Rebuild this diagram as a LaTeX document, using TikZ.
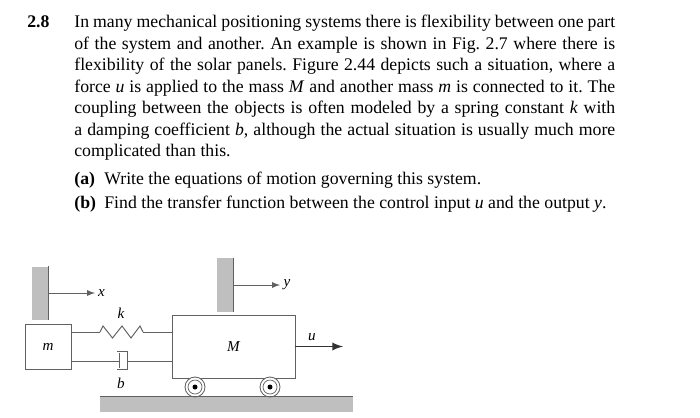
\documentclass[tikz,border=0pt]{standalone}
\usepackage{fontspec}
\setmainfont{Liberation Serif}
\definecolor{wallgray}{gray}{0.75}
\definecolor{linegray}{gray}{0.38}
\frenchspacing
\newcommand{\fullline}[1]{\makebox[10.82cm][s]{#1}}
\begin{document}
\begin{tikzpicture}[x=0.02cm, y=-0.02cm,
    textline/.style ={anchor=base west, inner sep=0pt, font=\fontsize{10.1pt}{12pt}\selectfont},
    partlabel/.style ={anchor=base west, inner sep=0pt, font=\fontsize{10.1pt}{12pt}\selectfont\bfseries},
    symlabel/.style ={inner sep=0pt, font=\fontsize{8.6pt}{10pt}\selectfont\itshape},
    massbox/.style ={rectangle, draw=linegray, fill=white, line width=0.5pt, inner sep=0pt},
    wallblock/.style ={rectangle, fill=wallgray, inner sep=0pt, minimum width=0.32cm},
    wheelring/.style ={circle, draw=linegray, fill=white, line width=0.5pt, inner sep=0pt, minimum size=0.4cm},
    rod/.style ={draw=linegray, line width=0.55pt},
    rodarrow/.style ={rod, -latex}]
   \useasboundingbox (0,0) rectangle (700,417);

   \node[partlabel] (num) at (27,27) {2.8};
   \node[textline] (L1) at (74,27) {\fullline{In many mechanical positioning systems there is flexibility between one part}};
   \node[textline] (L2) at (74,49) {\fullline{of the system and another. An example is shown in Fig. 2.7 where there is}};
   \node[textline] (L3) at (74,70) {\fullline{flexibility of the solar panels. Figure 2.44 depicts such a situation, where a}};
   \node[textline] (L4) at (74,92) {\fullline{force \textit{u} is applied to the mass \textit{M} and another mass \textit{m} is connected to it. The}};
   \node[textline] (L5) at (74,113) {\fullline{coupling between the objects is often modeled by a spring constant \textit{k} with}};
   \node[textline] (L6) at (74,135) {\fullline{a damping coefficient \textit{b}, although the actual situation is usually much more}};
   \node[textline] (L7) at (74,156) {complicated than this.};
   \node[partlabel] (pa) at (74,184) {(a)};
   \node[textline] (La) at (104,184) {Write the equations of motion governing this system.};
   \node[partlabel] (pb) at (74,208) {(b)};
   \node[textline] (Lb) at (104,208) {Find the transfer function between the control input \textit{u} and the output \textit{y}.};

   \node[wallblock, minimum height=1.06cm] (wallx) at (40,293) {};
   \node[wallblock, minimum height=1.08cm] (wally) at (225,285) {};
   \node[massbox, minimum width=0.92cm, minimum height=0.9cm] (m) at (48,346.5) {};
   \node[massbox, minimum width=2.46cm, minimum height=1.26cm] (M) at (233.5,346.5) {};
   \node[rectangle, fill=wallgray, inner sep=0pt, minimum width=5.06cm, minimum height=0.3cm] (ground) at (226.5,404.5) {};
   \node[wheelring] (W1) at (195,387) {};
   \node[wheelring] (W2) at (270,387) {};
   \node[circle, draw=linegray, line width=0.4pt, inner sep=0pt, minimum size=0.28cm] (H1) at (W1) {};
   \node[circle, draw=linegray, line width=0.4pt, inner sep=0pt, minimum size=0.28cm] (H2) at (W2) {};
   \node[circle, fill=black, inner sep=0pt, minimum size=0.1cm] (A1) at (W1) {};
   \node[circle, fill=black, inner sep=0pt, minimum size=0.1cm] (A2) at (W2) {};

   \node[symlabel] (mlabel) at (m) {m};
   \node[symlabel] (Mlabel) at (M) {M};
   \node[symlabel] (klabel) at (121,313) {k};
   \node[symlabel] (blabel) at (121,383) {b};
   \node[symlabel] (xlabel) at (101.5,293) {x};
   \node[symlabel] (ylabel) at (287,285) {y};
   \node[symlabel] (ulabel) at (312,337) {u};

   \coordinate (xend) at (95,293);
   \coordinate (yend) at (280,285);
   \coordinate (uend) at (343,346.5);
   \coordinate (kl) at (100,332);
   \coordinate (kr) at (143,332);
   \coordinate (pis) at (119.5,361);
   \coordinate (cyl) at (127,361);
   \coordinate (cyltop) at (127,351);
   \coordinate (cylbot) at (127,369);
   \coordinate (topend) at (117,351);
   \coordinate (botend) at (117,369);
   \coordinate (pistop) at (119.5,353);
   \coordinate (pisbot) at (119.5,368);

   \draw[rod] (wallx.north east) to (wallx.south east);
   \draw[rod] (wally.north east) to (wally.south east);
   \draw[draw=linegray, line width=0.5pt] (ground.north west) to (ground.north east);
   \draw[rodarrow] (wallx.east) to (xend);
   \draw[rodarrow] (wally.east) to (yend);
   \draw[draw=black!80, line width=1.1pt, -latex] (M.east) to (uend);

   \draw[rod] (m.east |- kl) to (kl);
   \draw[rod] (kl) -- (103,326) -- (112.5,338) -- (122,326) -- (131,338) -- (140,326) -- (kr);
   \draw[rod] (kr) to (M.west |- kr);

   \draw[rod] (m.east |- pis) to (pis);
   \draw[rod] (cyl) to (M.west |- cyl);
   \draw[rod] (pistop) to (pisbot);
   \draw[rod] (topend) to (cyltop) to (cylbot) to (botend);
 \end{tikzpicture}
\end{document}
